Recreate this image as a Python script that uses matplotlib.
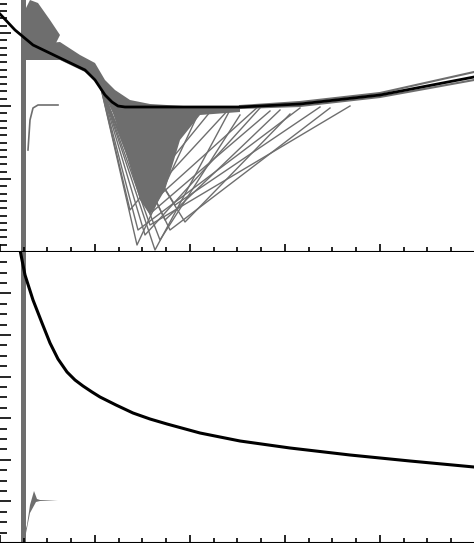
import matplotlib
matplotlib.use("Agg")
import matplotlib.pyplot as plt
from matplotlib.ticker import MultipleLocator

G = "#6e6e6e"
# ---- top panel data ----
top_black_x = [0, 15, 33, 60, 85, 95, 105, 112, 118, 125, 160, 240, 300, 380, 474]
top_black_y = [238, 222, 207, 194, 182, 172, 157, 150, 146, 145, 145, 145, 148, 157, 175]

spike_x = [21, 26, 26, 21]
spike_y = [0, 0, 252, 252]

loop_x = [22, 25, 30, 38, 50, 60, 55, 40, 28, 24]
loop_y = [192, 242, 252, 249, 232, 217, 207, 204, 202, 192]

band_x = [25, 60, 80, 95, 105, 115, 130, 150, 200, 240, 240, 200, 180, 165, 150, 140, 125, 112, 100, 85, 60, 25]
band_y = [207, 210, 197, 189, 172, 162, 152, 148, 145, 145, 140, 137, 112, 62, 37, 52, 102, 142, 167, 180, 192, 192]

trough_pts = [
    (137, 7, 200, 142), (155, 2, 230, 142), (145, 17, 260, 144), (160, 12, 240, 137),
    (138, 22, 300, 144), (170, 22, 330, 144), (150, 27, 350, 146), (165, 32, 280, 142),
    (130, 42, 210, 140), (175, 47, 320, 145), (160, 57, 260, 147), (145, 52, 230, 144),
    (185, 30, 290, 138), (152, 40, 270, 141),
]

right_x = [240, 300, 380, 474]
right_y1 = [146, 150, 159, 180]
right_y2 = [144, 146, 155, 172]

hook_x = [28, 30, 33, 38, 58]
hook_y = [102, 132, 144, 147, 147]

# ---- bottom panel data ----
bot_black_x = [20, 25, 33, 42, 50, 58, 67, 75, 83, 92, 100, 116, 133, 150, 167, 200, 240, 290, 350, 410, 474]
bot_black_y = [293, 268, 243, 220, 200, 184, 171, 163, 157, 151, 146, 138, 130, 124, 119, 110, 102, 95, 88, 82, 76]

bspike_x = [21, 26, 26, 21]
bspike_y = [0, 0, 291, 291]

bfeat_x = [22, 27, 30, 34, 37, 40, 58, 40, 36, 30, 26, 24]
bfeat_y = [0, 18, 38, 52, 44, 43, 43, 42, 41, 30, 10, 0]

fig = plt.figure(figsize=(4.74, 5.43), dpi=100)
ax1 = fig.add_axes([0, 291 / 543, 1, 252 / 543])
ax2 = fig.add_axes([0, 0, 1, 291 / 543])

ax1.fill(spike_x, spike_y, color=G, lw=0)
ax1.fill(loop_x, loop_y, color=G, lw=0)
ax1.fill(band_x, band_y, color=G, lw=0)
for xt, yt, xe, ye in trough_pts:
    ax1.plot([100, xt, xe], [168, yt, ye], color=G, lw=1)
ax1.plot(right_x, right_y1, color=G, lw=1.5)
ax1.plot(right_x, right_y2, color=G, lw=1.5)
ax1.plot(hook_x, hook_y, color=G, lw=1.2)
ax1.plot(top_black_x, top_black_y, color="black", lw=2)
ax1.set_xlim(0, 474)
ax1.set_ylim(0, 252)

ax2.fill(bspike_x, bspike_y, color=G, lw=0)
ax2.fill(bfeat_x, bfeat_y, color=G, lw=0)
ax2.plot(bot_black_x, bot_black_y, color="black", lw=2.2)
ax2.set_xlim(0, 474)
ax2.set_ylim(0, 291)

for ax, ymaj in ((ax1, 73), (ax2, 41.6)):
    for s in ("top", "right", "left"):
        ax.spines[s].set_visible(False)
    ax.spines["bottom"].set_linewidth(1.5)
    ax.xaxis.set_major_locator(MultipleLocator(95))
    ax.xaxis.set_minor_locator(MultipleLocator(23.75))
    ax.yaxis.set_major_locator(MultipleLocator(ymaj))
    ax.yaxis.set_minor_locator(MultipleLocator(ymaj / (10 if ax is ax1 else 4)))
    ax.tick_params(which="both", labelbottom=False, labelleft=False, width=1.2)
    ax.tick_params(axis="x", which="major", direction="inout", length=12)
    ax.tick_params(axis="x", which="minor", direction="inout", length=7)
    ax.tick_params(axis="y", which="major", direction="in", length=8)
    ax.tick_params(axis="y", which="minor", direction="in", length=5)

fig.savefig("out.png", dpi=100)
